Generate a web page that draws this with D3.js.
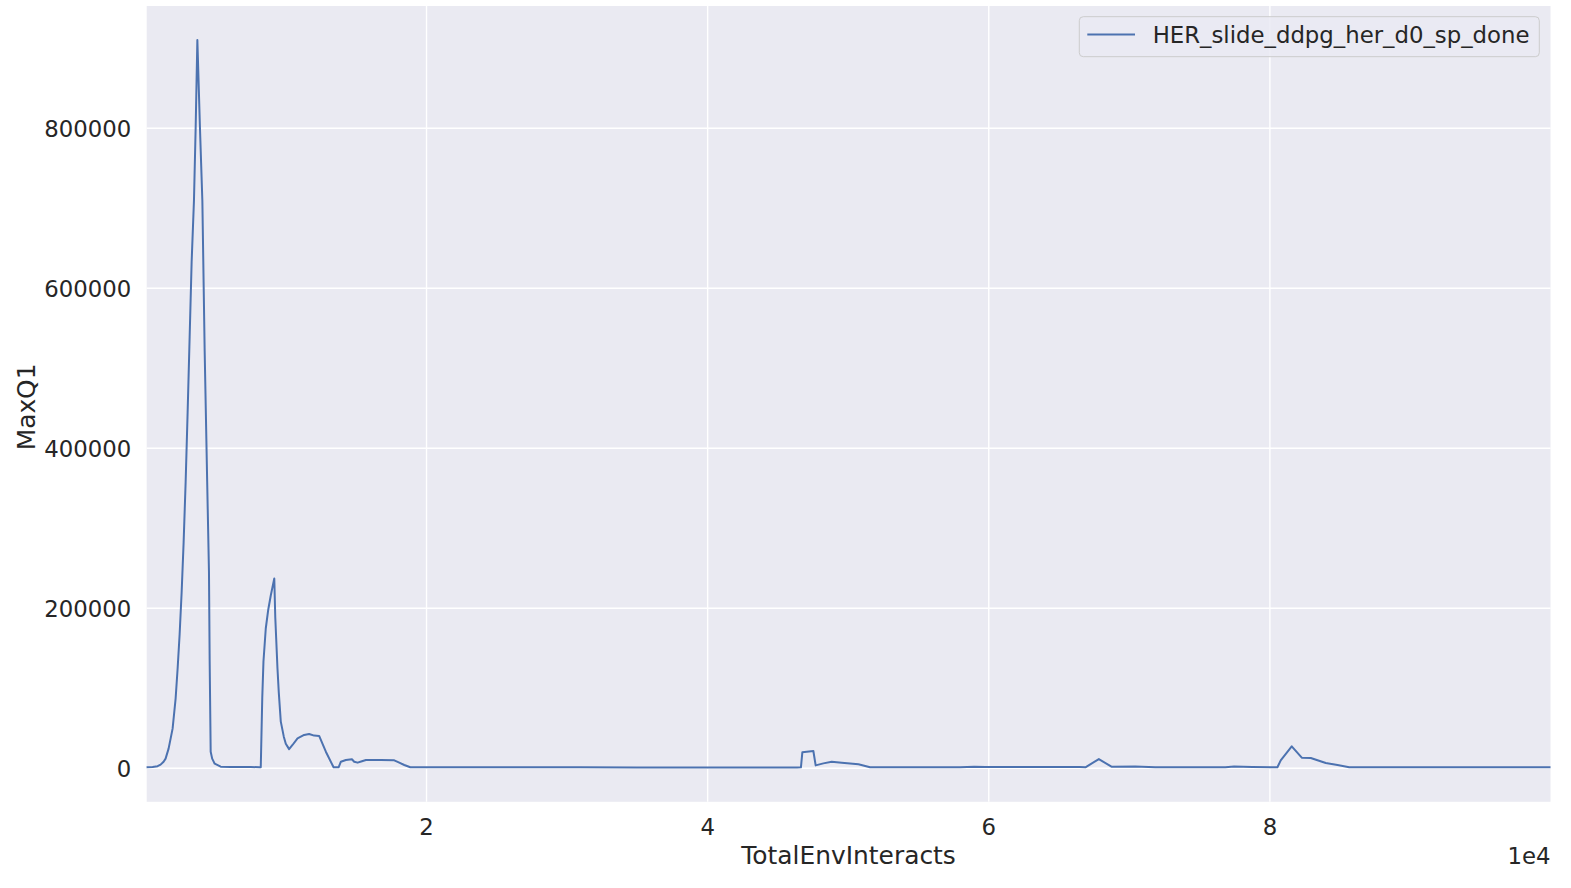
<!DOCTYPE html>
<html>
<head>
<meta charset="utf-8">
<script src="https://cdn.jsdelivr.net/npm/d3@7"></script>
<style>
  html, body { margin: 0; padding: 0; background: #ffffff; }
  svg { display: block; }
  text { font-family: "DejaVu Sans", sans-serif; fill: #262626; }
</style>
</head>
<body>
<svg id="chart" width="1571" height="888"></svg>
<script>
// ---- data ----
const seriesName = "HER_slide_ddpg_her_d0_sp_done";
const xLabel = "TotalEnvInteracts";
const yLabel = "MaxQ1";
const xOffsetLabel = "1e4";

const xTickValues = [20000, 40000, 60000, 80000];
const xTickLabels = ["2", "4", "6", "8"];
const yTickValues = [0, 200000, 400000, 600000, 800000];
const yTickLabels = ["0", "200000", "400000", "600000", "800000"];

const totalEnvInteracts = [
  120, 546, 902, 1116, 1330, 1472, 1686, 1829, 1971, 2185, 2328, 2470, 2613, 2755,
  2898, 3040, 3183, 3325, 3490, 3611, 3732, 3917, 4088, 4252, 4430, 4558, 4608, 4680, 4786, 4965,
  5392, 6105, 7530, 8170,
  8243, 8350, 8435, 8599, 8777, 8955, 9205, 9276, 9432, 9526, 9668, 9882, 10024, 10259,
  10501, 10858, 11328, 11684, 12041, 12397, 12874, 13423, 13779, 13943, 14299, 14727,
  14891, 15133, 15440, 15725, 16794, 17742, 18098, 18454, 18882,
  25000, 30000, 31000, 35000, 40000, 46400,
  46673, 46773, 47557, 47721, 48270, 48861, 49574, 50764, 51591,
  58000, 59000, 59800, 63000, 66500,
  66912, 67867, 68764, 70457, 71877, 76866, 77487, 78790,
  80572, 80807, 81590, 82303, 82944, 84013, 84847, 85680, 92000, 100000
];
const maxQ1 = [
  600, 900, 1900, 3800, 7500, 11300, 23800, 36300, 48800, 86400, 124000, 166500, 219000, 281700,
  356800, 444500, 538400, 632300, 708600, 800000, 909600, 800000, 708600, 520800, 358100, 245400, 132700, 20000, 11300, 5000,
  1250, 1000, 800, 600,
  600, 87600, 132700, 174000, 197800, 215300, 236600, 187800, 124000, 93900, 57600, 38800, 30000, 23200,
  28400, 36700, 40900, 42200, 40100, 39700, 20000, 500, 500, 7500, 9600, 10600,
  7500, 6300, 8100, 9600, 9600, 9200, 6300, 3400, 500,
  500, 700, 600, 400, 400, 400,
  500, 19200, 20900, 2900, 5400, 7500, 6300, 4200, 500,
  500, 1300, 1000, 900, 800,
  500, 10800, 1250, 1500, 500, 500, 1500, 800,
  500, 9200, 26700, 12500, 12100, 5800, 3300, 500, 500, 500
];

// ---- layout ----
const plot = { left: 146.7, right: 1550.5, top: 6, bottom: 801.8 };
const svg = d3.select("#chart");

const x = d3.scaleLinear().domain([128, 100000]).range([plot.left, plot.right]);
const y = d3.scaleLinear().domain([-42625, 952125]).range([plot.bottom, plot.top]);

// background
svg.append("rect")
  .attr("x", plot.left).attr("y", plot.top)
  .attr("width", plot.right - plot.left).attr("height", plot.bottom - plot.top)
  .attr("fill", "#EAEAF2");

// grid via axes
const gx = svg.append("g")
  .attr("transform", `translate(0,${plot.bottom})`)
  .call(d3.axisBottom(x).tickValues(xTickValues)
    .tickSize(-(plot.bottom - plot.top)).tickFormat((d, i) => xTickLabels[i]));
gx.select(".domain").remove();
gx.selectAll(".tick line").attr("stroke", "#ffffff").attr("stroke-width", 1.4);
gx.selectAll(".tick text")
  .attr("y", 33).attr("dy", null)
  .style("font-size", "22.8px").style("font-family", "DejaVu Sans").attr("fill", "#262626");

const gy = svg.append("g")
  .attr("transform", `translate(${plot.left},0)`)
  .call(d3.axisLeft(y).tickValues(yTickValues)
    .tickSize(-(plot.right - plot.left)).tickFormat((d, i) => yTickLabels[i]));
gy.select(".domain").remove();
gy.selectAll(".tick line").attr("stroke", "#ffffff").attr("stroke-width", 1.4);
gy.selectAll(".tick text")
  .attr("x", -15.4).attr("dy", "0.365em")
  .style("font-size", "22.8px").style("font-family", "DejaVu Sans").attr("fill", "#262626");

// line
const data = totalEnvInteracts.map((v, i) => [v, maxQ1[i]]);
svg.append("path")
  .datum(data)
  .attr("fill", "none")
  .attr("stroke", "#4C72B0")
  .attr("stroke-width", 2)
  .attr("stroke-linejoin", "round")
  .attr("d", d3.line().x(d => x(d[0])).y(d => y(d[1])));

// axis labels
svg.append("text")
  .attr("x", (plot.left + plot.right) / 2).attr("y", 864)
  .attr("text-anchor", "middle").style("font-size", "24.9px")
  .text(xLabel);

svg.append("text")
  .attr("transform", `translate(35,${(plot.top + plot.bottom) / 2 + 3}) rotate(-90)`)
  .attr("text-anchor", "middle").style("font-size", "24.9px")
  .text(yLabel);

svg.append("text")
  .attr("x", plot.right).attr("y", 864)
  .attr("text-anchor", "end").style("font-size", "22.8px")
  .text(xOffsetLabel);

// legend
const lg = svg.append("g");
lg.append("rect")
  .attr("x", 1079.3).attr("y", 16.7).attr("width", 460).attr("height", 40)
  .attr("rx", 4).attr("ry", 4)
  .attr("fill", "#EAEAF2").attr("fill-opacity", 0.8)
  .attr("stroke", "#cccccc").attr("stroke-width", 1);
lg.append("line")
  .attr("x1", 1087.3).attr("x2", 1135).attr("y1", 34.5).attr("y2", 34.5)
  .attr("stroke", "#4C72B0").attr("stroke-width", 2);
lg.append("text")
  .attr("x", 1152.7).attr("y", 43.3)
  .style("font-size", "22.8px")
  .text(seriesName);
</script>
</body>
</html>
